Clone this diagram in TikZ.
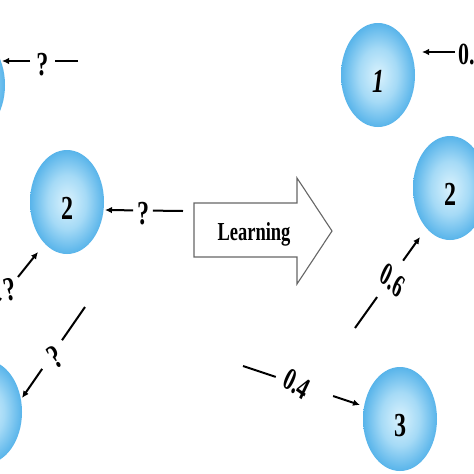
\documentclass[tikz,border=0pt]{standalone}
\usepackage{fontspec}
\setmainfont{Liberation Serif}
\usepackage{graphicx}
\usetikzlibrary{calc,arrows.meta,shapes.geometric}
\definecolor{ballin}{RGB}{218,242,253}
\definecolor{ballmid}{RGB}{165,218,246}
\definecolor{ballout}{RGB}{88,180,234}
\pgfdeclareradialshading{ballshade}{\pgfpoint{0bp}{0bp}}{color(0bp)=(ballin); color(13bp)=(ballmid); color(25bp)=(ballout); color(50bp)=(ballout)}
\newcommand\vstr[1]{\scalebox{1}[1.4]{#1}}
\newcommand\digit[1]{\raisebox{-17.5pt}[0pt][0pt]{\vstr{#1}}}
\begin{document}
\begin{tikzpicture}[x=1pt,y=-1pt,
  ball/.style={ellipse, shade, shading=ballshade, minimum width=74pt, minimum height=104pt, inner sep=0pt, outer sep=0pt, font=\fontsize{24}{24}\selectfont\bfseries},
  lab/.style={font=\fontsize{22}{22}\selectfont\bfseries, inner sep=0pt},
  qlab/.style={font=\fontsize{24}{24}\selectfont\bfseries, inner sep=0pt},
  conn/.style={line width=2pt, black},
  arr/.style={conn, -{Latex[length=7pt,width=6.5pt]}},
  learnbox/.style={draw=black!60, line width=1.1pt}]
\useasboundingbox (0,0) rectangle (474,474);
\clip (0,0) rectangle (474,474);
\fill[white] (0,0) rectangle (474,474);

% left nodes
\node[ball] (L1) at (-32,85) {};
\node[ball] (L2) at (67,202) {\digit{2}};
\node[ball] (L3) at (-15,412) {};

% right nodes
\node[ball] (R1) at (378,75) {\digit{\itshape 1}};
\node[ball] (R2) at (450,188) {\digit{2}};
\node[ball] (R3) at (400,419) {\digit{3}};

% learning arrow
\draw[learnbox] (194,203) -- (297,203) -- (297,178) -- (332,231) -- (297,284) -- (297,257) -- (194,257) -- cycle;
\node[font=\fontsize{18.5}{18.5}\selectfont\bfseries, inner sep=0pt] (learn) at (254,234) {\vstr{Learning}};

% E1 into L1
\coordinate (s1) at (78,61);
\coordinate (t1) at ($(L1)+(34,-24)$);
\path (s1) -- coordinate[pos=0.30] (a1) coordinate[pos=0.63] (b1) node[qlab,pos=0.47,yshift=-4pt] (q1) {\vstr{?}} (t1);
\draw[conn] (s1) -- (a1);
\draw[arr] (b1) -- (t1);

% E2 into L2 from right
\coordinate (s2) at (183,211);
\coordinate (t2) at ($(L2)+(38,8)$);
\path (s2) -- coordinate[pos=0.385] (a2) coordinate[pos=0.64] (b2) node[qlab,pos=0.51,yshift=-3pt] (q2) {\vstr{?}} (t2);
\draw[conn] (s2) -- (a2);
\draw[arr] (b2) -- (t2);

% E3 into L2 from lower left
\coordinate (s3) at (-14,317);
\coordinate (t3) at ($(L2)+(-29,50)$);
\path (s3) -- coordinate[pos=0.29] (a3) coordinate[pos=0.615] (b3) node[qlab,pos=0.46,rotate=12,yshift=-3pt] (q3) {\vstr{?}} (t3);
\draw[conn] (s3) -- (a3);
\draw[arr] (b3) -- (t3);

% E4 into L3
\coordinate (s4) at (85,307);
\coordinate (t4) at ($(L3)+(37,-14)$);
\path (s4) -- coordinate[pos=0.365] (a4) coordinate[pos=0.68] (b4) node[qlab,pos=0.51,rotate=30,yshift=-4pt] (q4) {\vstr{?}} (t4);
\draw[conn] (s4) -- (a4);
\draw[arr] (b4) -- (t4);

% E5 into R1
\coordinate (s5) at (530,52);
\coordinate (t5) at ($(R1)+(44,-23)$);
\path (s5) -- coordinate[pos=0.46] (a5) coordinate[pos=0.694] (b5) node[lab,pos=0.59,yshift=-2pt] (w5) {\vstr{0.}} (t5);
\draw[conn] (s5) -- (a5);
\draw[arr] (b5) -- (t5);

% E6 into R2
\coordinate (s6) at (355,328);
\coordinate (t6) at ($(R2)+(-30,49)$);
\path (s6) -- coordinate[pos=0.34] (a6) coordinate[pos=0.74] (b6) node[lab,pos=0.58,yshift=-5pt,cm={0.707,-0.707,0.423,0.906,(0,0)}] (w6) {\vstr{0.6}} (t6);
\draw[conn] (s6) -- (a6);
\draw[arr] (b6) -- (t6);

% E7 into R3
\coordinate (s7) at (243,366);
\coordinate (t7) at ($(R3)+(-40,-14)$);
\path (s7) -- coordinate[pos=0.28] (a7) coordinate[pos=0.77] (b7) node[lab,pos=0.46,cm={0.819,-0.574,0.423,0.906,(0,0)}] (w7) {\vstr{0.4}} (t7);
\draw[conn] (s7) -- (a7);
\draw[arr] (b7) -- (t7);
\end{tikzpicture}
\end{document}
